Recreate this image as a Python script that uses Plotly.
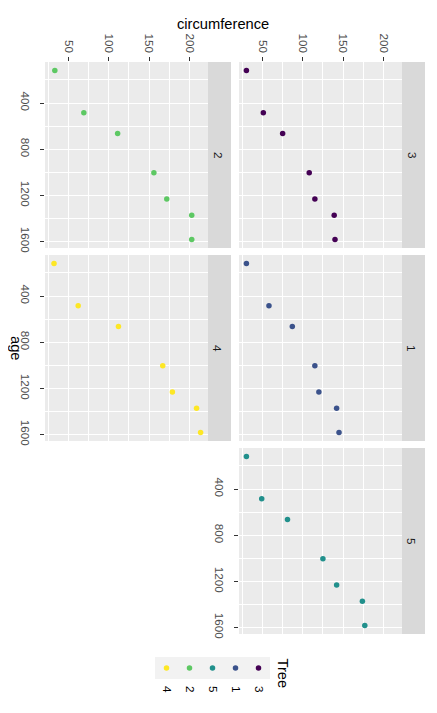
import plotly.graph_objects as go

# Orange trees: age (days) vs trunk circumference (mm)
age = [118, 484, 664, 1004, 1231, 1372, 1582]
circ_tree1 = [30, 58, 87, 115, 120, 142, 145]
circ_tree2 = [33, 69, 111, 156, 172, 203, 203]
circ_tree3 = [30, 51, 75, 108, 115, 139, 140]
circ_tree4 = [32, 62, 112, 167, 179, 209, 214]
circ_tree5 = [30, 49, 81, 125, 142, 174, 177]

trees = ["3", "1", "5", "2", "4"]
legend_order = ["4", "2", "5", "1", "3"]
tree_colors = ["#440154", "#3B528B", "#21908C", "#5DC863", "#FDE725"]

circ_ticks = [50, 100, 150, 200]
circ_minor = [25, 75, 125, 175, 225]
age_ticks = [400, 800, 1200, 1600]
age_minor = [200, 600, 1000, 1400]

circ = {"1": circ_tree1, "2": circ_tree2, "3": circ_tree3, "4": circ_tree4, "5": circ_tree5}
color_of = dict(zip(trees, tree_colors))

# the page body adds an 8px margin, so lay out in page pixels minus that
OFF = 8
W, H = 437 - OFF, 713 - OFF
FONT = "Liberation Sans, Arial, sans-serif"


def fx(px):
    return (px - OFF) / W


def fy(py):
    return 1 - (py - OFF) / H


def expand(vals):
    lo, hi = min(vals), max(vals)
    pad = (hi - lo) * 0.05
    return lo - pad, hi + pad


all_circ = [v for t in trees for v in circ[t]]
c_lo, c_hi = expand(all_circ)
a_lo, a_hi = expand(age)

# panel boxes in page pixels (facets laid out turned a quarter clockwise)
right_col = (239, 402)
left_col = (45, 208)
rows = [(62, 248), (255, 441), (448, 634)]
panels = {
    "3": (right_col, rows[0], True, False),
    "1": (right_col, rows[1], False, False),
    "5": (right_col, rows[2], False, True),
    "2": (left_col, rows[0], True, True),
    "4": (left_col, rows[1], False, True),
}

fig = go.Figure()
shapes = []
annotations = []

for i, tree in enumerate(trees):
    n = "" if i == 0 else str(i + 1)
    (x0, x1), (y0, y1), show_circ, show_age = panels[tree]

    fig.add_trace(go.Scatter(
        x=circ[tree], y=age, mode="markers",
        marker=dict(color=color_of[tree], size=5.5),
        xaxis="x" + n, yaxis="y" + n, showlegend=False,
    ))

    fig.layout["xaxis" + n] = dict(
        domain=[fx(x0), fx(x1)], anchor="y" + n, side="top",
        range=[c_lo, c_hi], tickvals=circ_ticks,
        showticklabels=show_circ, ticks="outside" if show_circ else "",
        ticklen=4, tickcolor="#333333", tickangle=90,
        tickfont=dict(size=11.7, color="#4D4D4D", family=FONT),
        showgrid=True, gridcolor="white", gridwidth=1.2, zeroline=False,
        minor=dict(tickvals=circ_minor, showgrid=True, gridcolor="white", gridwidth=0.6),
        automargin=False,
    )
    fig.layout["yaxis" + n] = dict(
        domain=[fy(y1), fy(y0)], anchor="x" + n,
        range=[a_hi, a_lo], tickvals=age_ticks,
        showticklabels=show_age, ticks="outside" if show_age else "",
        ticklen=4, tickcolor="#333333", tickangle=90, ticklabelstandoff=5,
        tickfont=dict(size=11.7, color="#4D4D4D", family=FONT),
        showgrid=True, gridcolor="white", gridwidth=1.2, zeroline=False,
        minor=dict(tickvals=age_minor, showgrid=True, gridcolor="white", gridwidth=0.6),
        automargin=False,
    )

    # facet strip on the right side
    shapes.append(dict(type="rect", xref="paper", yref="paper",
                       x0=fx(x1), x1=fx(x1 + 23), y0=fy(y1), y1=fy(y0),
                       fillcolor="#D9D9D9", line=dict(width=0), layer="below"))
    annotations.append(dict(x=fx(x1 + 10), y=fy((y0 + y1) / 2), xref="paper", yref="paper",
                            xanchor="center", yanchor="middle",
                            text=tree, showarrow=False, textangle=90,
                            font=dict(size=11.7, color="#1A1A1A", family=FONT)))

# legend drawn as a small extra axis so its labels can be turned
fig.add_trace(go.Scatter(
    x=legend_order, y=[0.5] * len(legend_order), mode="markers",
    marker=dict(color=[color_of[t] for t in legend_order], size=5.5),
    xaxis="x6", yaxis="y6", showlegend=False,
))
fig.layout["xaxis6"] = dict(
    domain=[fx(155), fx(270)], anchor="y6", type="category",
    categoryorder="array", categoryarray=legend_order,
    range=[-0.5, len(legend_order) - 0.5], showgrid=False, zeroline=False,
    ticks="", tickangle=90, ticklabelstandoff=6,
    tickfont=dict(size=11.7, color="black", family=FONT),
    automargin=False,
)
fig.layout["yaxis6"] = dict(
    domain=[fy(679), fy(657)], anchor="x6", range=[0, 1],
    showgrid=False, zeroline=False, showticklabels=False, automargin=False,
)
shapes.append(dict(type="rect", xref="x6 domain", yref="y6 domain",
                   x0=0, x1=1, y0=0, y1=1, fillcolor="#F2F2F2",
                   line=dict(width=0), layer="below"))
annotations.append(dict(x=fx(282.5), y=fy(656), xref="paper", yref="paper",
                        xanchor="center", yanchor="top",
                        text="Tree", showarrow=False, textangle=90,
                        font=dict(size=14.7, color="black", family=FONT)))

# axis titles
annotations.append(dict(x=fx(223), y=fy(24), xref="paper", yref="paper",
                        xanchor="center", yanchor="middle",
                        text="circumference", showarrow=False,
                        font=dict(size=14.7, color="black", family=FONT)))
annotations.append(dict(x=fx(16), y=fy(348), xref="paper", yref="paper",
                        xanchor="center", yanchor="middle",
                        text="age", showarrow=False, textangle=90,
                        font=dict(size=14.7, color="black", family=FONT)))

fig.update_layout(
    width=W, height=H,
    margin=dict(l=0, r=0, t=0, b=0),
    paper_bgcolor="white", plot_bgcolor="#EBEBEB",
    shapes=shapes, annotations=annotations,
    font=dict(family=FONT),
)

fig.write_html("out.html")
